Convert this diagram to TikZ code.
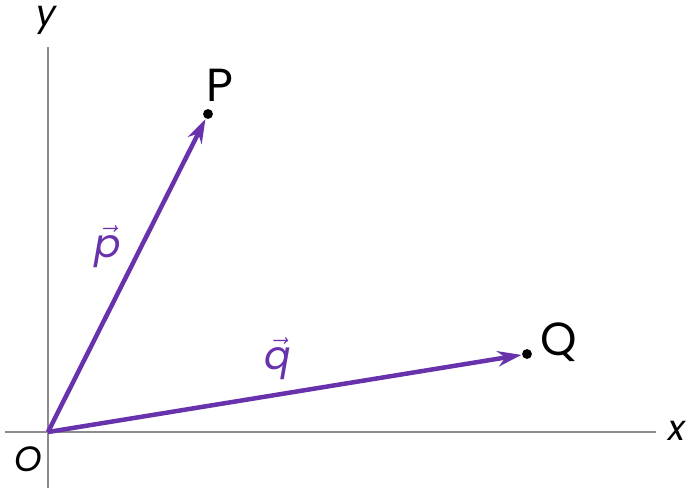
\documentclass[tikz,border=0pt]{standalone}
\usepackage{fontspec}
\setmainfont{Poppins}
\usepackage{amsmath}
\usepackage{xcolor}
\usepackage{tikz}
\usetikzlibrary{arrows.meta}
\usetikzlibrary{positioning}
\usetikzlibrary{calc}
\definecolor{vecpurple}{RGB}{104,50,172}
\definecolor{axisgray}{RGB}{140,140,140}
\newcommand{\vecit}[1]{$\vec{\mbox{\itshape #1}}$}

\begin{document}
\begin{tikzpicture}[x=0.025cm,y=-0.025cm,>={Stealth[length=17pt,width=11pt]},
	axis/.style={draw=axisgray, line width=1.3pt},
	vecline/.style={->, draw=vecpurple, line width=3.2pt, shorten >=4pt},
	dot/.style={circle, fill=black, inner sep=0pt, minimum size=7pt}]
			\useasboundingbox (0,0) rectangle (694,488);
			%coordinates
			\coordinate (O)    at (48,432);
			\coordinate (xend) at (656,432);
			\coordinate (xbeg) at (5,432);
			\coordinate (yend) at (48,47);
			\coordinate (ybeg) at (48,488);
			
			%nodes
			\node[dot] (P) at (208,114) {};
			\node[dot] (Q) at (527,354) {};
			\node[font=\fontsize{33}{38}\selectfont] (Plab) at (220,85) {P};
			\node[font=\fontsize{33}{38}\selectfont] (Qlab) at (559,342) {Q};
			\node[font=\fontsize{25}{30}\selectfont\itshape] (xlab) at (677,431) {x};
			\node[font=\fontsize{25}{30}\selectfont\itshape] (ylab) at (46,20) {y};
			\node[font=\fontsize{25}{30}\selectfont\itshape] (Olab) at (28,459) {O};
			
			%axes
			\draw[axis] (xbeg) -- (xend);
			\draw[axis] (ybeg) -- (yend);
			
			%vectors
			\draw[vecline] (O) -- (P.center);
			\draw[vecline] (O) -- (Q.center);
			\node[text=vecpurple, font=\fontsize{28}{32}\selectfont] (plab) at (108,247) {\vecit{p}};
			\node[text=vecpurple, font=\fontsize{28}{32}\selectfont] (qlab) at (278,359) {\vecit{q}};
			\end{tikzpicture}
\end{document}
